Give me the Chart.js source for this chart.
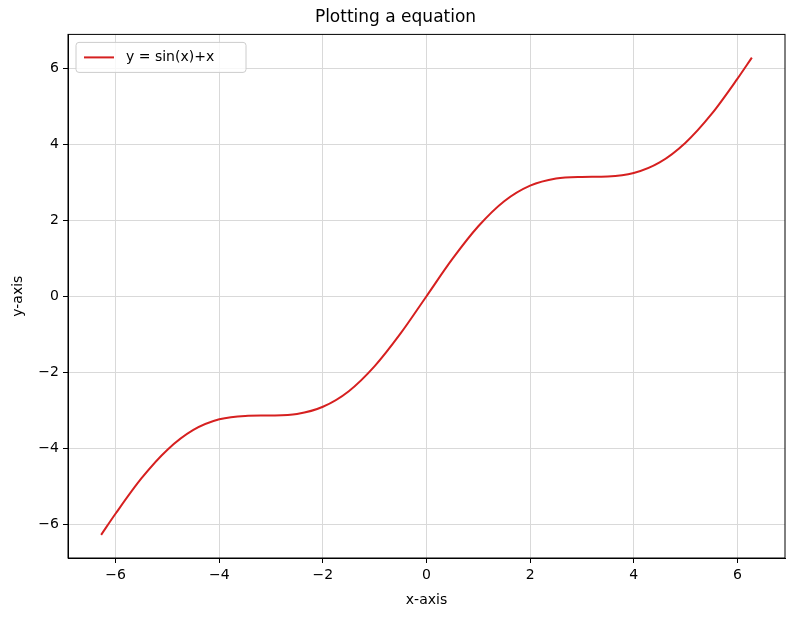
<!DOCTYPE html>
<html>
<head>
<script src="https://cdn.jsdelivr.net/npm/chart.js@4"></script>
<style>body{margin:0;background:#fff}</style>
</head>
<body>
<canvas id="c" width="800" height="619"></canvas>
<script>
// values
const xValues = [-6.28, -6, -5.5, -5, -4.5, -4, -3.5, -3, -2.5, -2, -1.5, -1, -0.5, 0, 0.5, 1, 1.5, 2, 2.5, 3, 3.5, 4, 4.5, 5, 5.5, 6, 6.28];
const yValues = [-6.28, -5.72, -4.79, -4.04, -3.52, -3.24, -3.15, -3.14, -3.10, -2.91, -2.50, -1.84, -0.98, 0, 0.98, 1.84, 2.50, 2.91, 3.10, 3.14, 3.15, 3.24, 3.52, 4.04, 4.79, 5.72, 6.28];
const tickValues = [-6, -4, -2, 0, 2, 4, 6];
const seriesLabel = 'y = sin(x)+x';

const points = xValues.map((x, i) => ({x: x, y: yValues[i]}));
const fmt = v => (v < 0 ? '\u2212' + Math.abs(v) : '' + v);
const font = {family: 'DejaVu Sans', size: 14};

const legendBox = {
  id: 'legendBox',
  afterDraw(chart) {
    const c = chart.ctx, a = chart.chartArea;
    c.save();
    c.fillStyle = 'rgba(255,255,255,0.8)';
    c.strokeStyle = '#ccc';
    c.lineWidth = 1;
    c.beginPath();
    c.roundRect(a.left + 8, a.top + 8, 170, 30, 3);
    c.fill(); c.stroke();
    c.strokeStyle = '#d62020'; c.lineWidth = 2;
    c.beginPath(); c.moveTo(a.left + 16, a.top + 23); c.lineTo(a.left + 46, a.top + 23); c.stroke();
    c.fillStyle = '#000'; c.font = '14px DejaVu Sans'; c.textBaseline = 'middle';
    c.fillText(seriesLabel, a.left + 58, a.top + 23);
    c.restore();
  }
};

new Chart(document.getElementById('c'), {
  type: 'scatter',
  data: {datasets: [{
    label: seriesLabel, data: points, showLine: true, pointRadius: 0,
    borderColor: '#d62020', borderWidth: 2, cubicInterpolationMode: 'monotone'
  }]},
  options: {
    responsive: false, animation: false,
    layout: {padding: {left: 6, right: 15, top: 0, bottom: 0}},
    plugins: {
      legend: {display: false},
      tooltip: {enabled: false},
      title: {display: true, text: 'Plotting a equation', color: '#000',
        font: {family: 'DejaVu Sans', size: 17, weight: 'normal'}, padding: {top: 7, bottom: 7}}
    },
    scales: {
      x: {
        min: -6.92, max: 6.92,
        afterFit: s => { s.height = 61; },
        afterBuildTicks: s => { s.ticks = tickValues.map(v => ({value: v})); },
        ticks: {callback: fmt, color: '#000', font: font, maxRotation: 0, padding: 4},
        grid: {color: '#d9d9d9', tickColor: '#000', tickLength: 5},
        border: {color: '#000'},
        title: {display: true, text: 'x-axis', color: '#000', font: font, padding: {top: 0, bottom: 10}}
      },
      y: {
        min: -6.89, max: 6.89,
        afterFit: s => { s.width = 62; },
        afterBuildTicks: s => { s.ticks = tickValues.map(v => ({value: v})); },
        ticks: {callback: fmt, color: '#000', font: font, padding: 4},
        grid: {color: '#d9d9d9', tickColor: '#000', tickLength: 5},
        border: {color: '#000'},
        title: {display: true, text: 'y-axis', color: '#000', font: font, padding: {top: 4, bottom: 0}}
      }
    }
  },
  plugins: [legendBox, {
    id: 'frame',
    afterDraw(chart) {
      const c = chart.ctx, a = chart.chartArea;
      c.save(); c.strokeStyle = '#000'; c.lineWidth = 1;
      c.strokeRect(a.left, a.top, a.right - a.left, a.bottom - a.top);
      c.restore();
    }
  }]
});
</script>
</body>
</html>
